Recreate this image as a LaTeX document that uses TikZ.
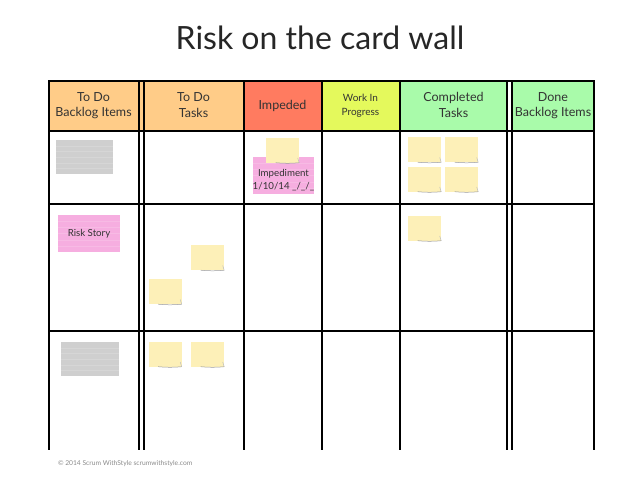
\documentclass[tikz,border=0pt]{standalone}
\usepackage{fontspec}
\setmainfont{Lato}
\usetikzlibrary{positioning}

\definecolor{todocolor}{HTML}{FFCC88}
\definecolor{impededcolor}{HTML}{FF7B60}
\definecolor{progresscolor}{HTML}{E4F95C}
\definecolor{donecolor}{HTML}{A9FBAA}
\definecolor{stickycolor}{HTML}{FDF0B8}
\definecolor{graycard}{HTML}{CFCFCF}
\definecolor{pinkcard}{HTML}{F6AEE0}
\definecolor{footercolor}{HTML}{8A8A8A}

\begin{document}
\begin{tikzpicture}[x=1pt,y=-1pt]

		\tikzstyle{wall}=[line width=2pt,black]
		\tikzstyle{header}=[inner sep=0pt,align=center,font=\fontsize{12.5}{15.5}\selectfont,text=black!80]
		\tikzstyle{sticky}=[inner sep=0pt,minimum width=33pt,minimum height=25pt,fill=stickycolor]
		\tikzstyle{stickyedge}=[line width=0.5pt,black!40,line cap=round]
		\tikzstyle{card}=[inner sep=0pt,align=center,font=\fontsize{9.7}{13}\selectfont,text=black!80]
		\tikzstyle{ruled}=[line width=0.3pt,white,opacity=0.15]

		\useasboundingbox (0,0) rectangle (638,479);

		\node[font=\fontsize{32}{36}\selectfont,text=black!85] (title) at (320,38) {Risk on the card wall};

		% column headings
		\node[header,fill=todocolor,minimum width=95pt,minimum height=50pt] (backlog) at (96,105.5) {\hspace*{-5pt}To Do\\\hspace*{-5pt}Backlog Items};
		\node[header,fill=todocolor,minimum width=100pt,minimum height=50pt] (tasks) at (193.5,105) {To Do\\Tasks};
		\node[header,fill=impededcolor,minimum width=78pt,minimum height=50pt] (impeded) at (282.5,105.5) {Impeded};
		\node[header,fill=progresscolor,minimum width=79pt,minimum height=50pt,font=\fontsize{10}{14.5}\selectfont] (progress) at (360.5,105.5) {Work In\\Progress};
		\node[header,fill=donecolor,minimum width=107pt,minimum height=50pt] (completed) at (453.5,105) {Completed\\Tasks};
		\node[header,fill=donecolor,minimum width=83pt,minimum height=50pt] (done) at (553,105.5) {Done\\Backlog Items};

		% cards
		\node[card,fill=graycard,minimum width=57pt,minimum height=34pt] (topcard) at (84.5,157) {};
		\node[card,fill=pinkcard,minimum width=62pt,minimum height=37pt] (riskcard) at (89,233.5) {};
		\node[card,fill=graycard,minimum width=58pt,minimum height=34pt] (lowcard) at (89.5,359) {};
		\node[card,fill=pinkcard,minimum width=61pt,minimum height=37pt] (impedcard) at (283.5,175.5) {};

		\foreach \x/\y/\w/\h in {56/140/57/34,58/215/62/37,60.5/342/58/34,253/157/61/37}{
			\foreach \k in {1,...,5}
				\draw[ruled] (\x,\y+\k*\h/6) -- (\x+\w,\y+\k*\h/6);
		}

		\node[card] (risktext) at (riskcard) {Risk Story};
		\node[card] (impedtext) at (283.5,180) {Impediment\\1/10/14 \_/\_/\_};

		% sticky notes
		\foreach \n/\x/\y in {a/282.5/150,b/424.5/149.5,c/461.5/149.5,d/424.5/179,e/461.5/179,f/424.5/228,g/207.5/257.5,h/165/291.5,i/165/354,j/207.5/354}{
			\node[sticky] (note\n) at (\x,\y) {};
			\draw[stickyedge] ([xshift=10pt]note\n.south west) to[bend right=5] (note\n.south east);
			\draw[stickyedge,black!25] (note\n.south east) to[bend right=4] ([xshift=-1.5pt,yshift=-8pt]note\n.east);
		}

		% wall lines
		\foreach \x in {49,138.5,143.5,244,321.5,400,507,512,594}
			\draw[wall] (\x,80.5) -- (\x,450);
		\foreach \y in {80.5,130.5,204,331}
			\draw[wall] (48,\y) -- (595,\y);

		\node[font=\fontsize{6.7}{8}\selectfont,text=footercolor,anchor=west] (footer) at (54.5,463.5) {© 2014 Scrum WithStyle scrumwithstyle.com};

\end{tikzpicture}
\end{document}
